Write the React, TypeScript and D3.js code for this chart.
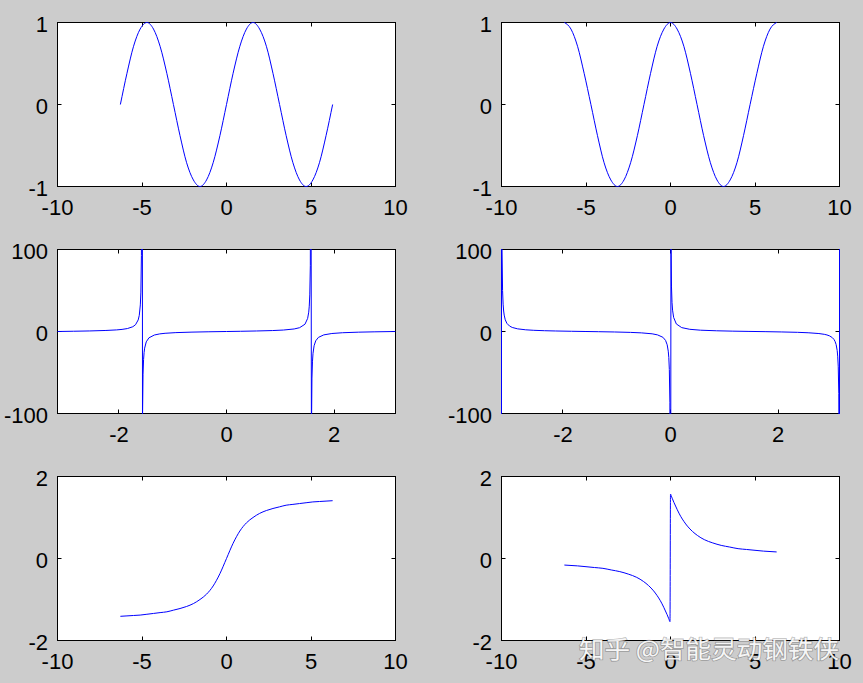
import React from "react";
import * as d3 from "d3";

// ---- data ----
const xWave = [-6.28, -5.89, -5.5, -5.11, -4.71, -4.32, -3.93, -3.53, -3.14, -2.75, -2.36, -1.96, -1.57, -1.18, -0.79, -0.39, 0, 0.39, 0.79, 1.18, 1.57, 1.96, 2.36, 2.75, 3.14, 3.53, 3.93, 4.32, 4.71, 5.11, 5.5, 5.89, 6.28];
const sinY = [0, 0.38, 0.71, 0.92, 1, 0.92, 0.71, 0.38, 0, -0.38, -0.71, -0.92, -1, -0.92, -0.71, -0.38, 0, 0.38, 0.71, 0.92, 1, 0.92, 0.71, 0.38, 0, -0.38, -0.71, -0.92, -1, -0.92, -0.71, -0.38, 0];
const cosY = [1, 0.92, 0.71, 0.38, 0, -0.38, -0.71, -0.92, -1, -0.92, -0.71, -0.38, 0, 0.38, 0.71, 0.92, 1, 0.92, 0.71, 0.38, 0, -0.38, -0.71, -0.92, -1, -0.92, -0.71, -0.38, 0, 0.38, 0.71, 0.92, 1];
const atanY = [-1.41, -1.40, -1.39, -1.38, -1.36, -1.34, -1.32, -1.30, -1.26, -1.22, -1.17, -1.10, -1.00, -0.87, -0.67, -0.37, 0, 0.37, 0.67, 0.87, 1.00, 1.10, 1.17, 1.22, 1.26, 1.30, 1.32, 1.34, 1.36, 1.38, 1.39, 1.40, 1.41];

const acotX = [-6.28, -5.5, -5, -4.5, -4, -3.5, -3, -2.5, -2, -1.6, -1.3, -1, -0.8, -0.6, -0.4, -0.3, -0.2, -0.1, -0.03, 0, 0.05, 0.1, 0.2, 0.3, 0.4, 0.6, 0.8, 1, 1.3, 1.6, 2, 2.5, 3, 3.5, 4, 4.5, 5, 5.5, 6.28];
const acotY = [-0.16, -0.18, -0.2, -0.22, -0.24, -0.28, -0.32, -0.38, -0.46, -0.56, -0.66, -0.79, -0.9, -1.03, -1.19, -1.28, -1.37, -1.47, -1.54, 1.57, 1.52, 1.47, 1.37, 1.28, 1.19, 1.03, 0.9, 0.79, 0.66, 0.56, 0.46, 0.38, 0.32, 0.28, 0.24, 0.22, 0.2, 0.18, 0.16];

const tanX = [-3.1416, -2.8416, -2.5416, -2.2416, -2.0416, -1.9416, -1.8416, -1.7416, -1.6916, -1.6416, -1.6216, -1.6016, -1.5916, -1.5816, -1.5716, -1.5616, -1.5516, -1.5416, -1.5316, -1.5216, -1.4916, -1.4416, -1.3416, -1.2416, -1.1416, -0.9416, -0.6416, -0.3416, -0.0016, 0.2584, 0.5584, 0.8584, 1.0584, 1.2584, 1.3584, 1.4584, 1.5084, 1.5284, 1.5384, 1.5484, 1.5584, 1.5684, 1.5784, 1.5884, 1.5984, 1.6084, 1.6284, 1.6584, 1.7084, 1.8084, 1.9584, 2.1584, 2.4584, 2.7584, 3.1384];
const tanY = [0, 0.31, 0.68, 1.26, 1.96, 2.57, 3.6, 5.8, 8.24, 14.1, 19.67, 32.46, 48.08, 92.62, 1255.8, -108.65, -52.07, -34.23, -25.49, -20.31, -12.6, -7.7, -4.29, -2.93, -2.19, -1.37, -0.75, -0.36, 0, 0.26, 0.63, 1.16, 1.78, 3.1, 4.64, 8.86, 16.0, 23.57, 30.85, 44.63, 80.64, 416.7, -131.6, -56.81, -36.22, -26.58, -17.34, -11.39, -7.22, -4.13, -2.45, -1.5, -0.81, -0.4, 0];

const cotX = [-3.1416, -3.1416, -3.1316, -3.1216, -3.1116, -3.1016, -3.0916, -3.0716, -3.0416, -2.9916, -2.9416, -2.8416, -2.6916, -2.5416, -2.3416, -2.1416, -1.8416, -1.5716, -1.3416, -1.0416, -0.7416, -0.5416, -0.3416, -0.2416, -0.1416, -0.0916, -0.0616, -0.0416, -0.0316, -0.0216, -0.0116, -0.0016, 0.0084, 0.0184, 0.0284, 0.0384, 0.0584, 0.1084, 0.2084, 0.3584, 0.5584, 0.8584, 1.1584, 1.4584, 1.7584, 2.0584, 2.3584, 2.5584, 2.7584, 2.8584, 2.9084, 2.9584, 3.0084, 3.0384, 3.0584, 3.0784, 3.0984, 3.1084, 3.1184, 3.1284, 3.1384, 3.1416, 3.1416];
const cotY = [-1000, 1000, 100.0, 50.0, 33.32, 24.99, 19.98, 14.26, 9.97, 6.62, 4.93, 3.23, 2.07, 1.46, 0.97, 0.64, 0.28, 0, -0.24, -0.58, -1.09, -1.66, -2.81, -4.12, -7.02, -10.88, -16.21, -24.02, -31.63, -46.29, -86.2, -625.0, 119.0, 54.34, 35.2, 26.03, 17.1, 9.19, 4.73, 2.67, 1.59, 0.87, 0.43, 0.11, -0.19, -0.54, -1.0, -1.53, -2.48, -3.44, -4.2, -5.4, -7.47, -9.66, -11.99, -15.8, -23.13, -30.11, -43.1, -75.75, -312.5, -1000, 1000];

const ticksWide = [-10, -5, 0, 5, 10];
const ticksPi = [-2, 0, 2];
const ticksUnit = [-1, 0, 1];
const ticksHundred = [-100, 0, 100];
const ticksTwo = [-2, 0, 2];
const watermark = "知乎 @智能灵动钢铁侠";

// ---- layout ----
const W = 863;
const H = 683;
const colX = [57.5, 501.5];
const rowY = [22.5, 249.5, 476.5];
const axW = 338;
const axH = 164;
const tickLen = 4;
const FONT = "'Liberation Sans', Arial, sans-serif";

type Panel = {
  id: string;
  col: number;
  row: number;
  xDomain: [number, number];
  yDomain: [number, number];
  xTicks: number[];
  yTicks: number[];
  xs: number[];
  ys: number[];
  smooth: boolean;
};

const panels: Panel[] = [
  { id: "sin", col: 0, row: 0, xDomain: [-10, 10], yDomain: [-1, 1], xTicks: ticksWide, yTicks: ticksUnit, xs: xWave, ys: sinY, smooth: true },
  { id: "cos", col: 1, row: 0, xDomain: [-10, 10], yDomain: [-1, 1], xTicks: ticksWide, yTicks: ticksUnit, xs: xWave, ys: cosY, smooth: true },
  { id: "tan", col: 0, row: 1, xDomain: [-Math.PI, Math.PI], yDomain: [-100, 100], xTicks: ticksPi, yTicks: ticksHundred, xs: tanX, ys: tanY, smooth: false },
  { id: "cot", col: 1, row: 1, xDomain: [-Math.PI, Math.PI], yDomain: [-100, 100], xTicks: ticksPi, yTicks: ticksHundred, xs: cotX, ys: cotY, smooth: false },
  { id: "atan", col: 0, row: 2, xDomain: [-10, 10], yDomain: [-2, 2], xTicks: ticksWide, yTicks: ticksTwo, xs: xWave, ys: atanY, smooth: true },
  { id: "acot", col: 1, row: 2, xDomain: [-10, 10], yDomain: [-2, 2], xTicks: ticksWide, yTicks: ticksTwo, xs: acotX, ys: acotY, smooth: true },
];

const snap = (v: number) => Math.round(v - 0.5) + 0.5;

function PanelView({ p }: { p: Panel }) {
  const x0 = colX[p.col];
  const y0 = rowY[p.row];
  const sx = d3.scaleLinear().domain(p.xDomain).range([x0, x0 + axW]);
  const sy = d3.scaleLinear().domain(p.yDomain).range([y0 + axH, y0]);
  const pts = p.xs.map((x, i) => [x, p.ys[i]] as [number, number]);
  const line = d3
    .line<[number, number]>()
    .x((d) => sx(d[0]))
    .y((d) => sy(Math.max(-5000, Math.min(5000, d[1]))))
    .curve(p.smooth ? d3.curveMonotoneX : d3.curveLinear);
  const clipId = `clip-${p.id}`;
  const bottom = y0 + axH;
  const right = x0 + axW;
  return (
    <g>
      <defs>
        <clipPath id={clipId}>
          <rect x={x0 - 0.5} y={y0 - 0.5} width={axW + 1} height={axH + 1} />
        </clipPath>
      </defs>
      <rect x={x0} y={y0} width={axW} height={axH} fill="#ffffff" />
      {p.xTicks.map((t) => {
        const x = snap(sx(t));
        return (
          <g key={`xt${t}`}>
            <line x1={x} x2={x} y1={bottom} y2={bottom - tickLen} stroke="#000" strokeWidth={1} />
            <line x1={x} x2={x} y1={y0} y2={y0 + tickLen} stroke="#000" strokeWidth={1} />
            <text x={sx(t)} y={bottom + 28.5} textAnchor="middle" fontFamily={FONT} fontSize={22} fill="#000">
              {String(t)}
            </text>
          </g>
        );
      })}
      {p.yTicks.map((t) => {
        const y = snap(sy(t));
        return (
          <g key={`yt${t}`}>
            <line x1={x0} x2={x0 + tickLen} y1={y} y2={y} stroke="#000" strokeWidth={1} />
            <line x1={right} x2={right - tickLen} y1={y} y2={y} stroke="#000" strokeWidth={1} />
            <text x={x0 - 9.5} y={sy(t) + 9} textAnchor="end" fontFamily={FONT} fontSize={22} fill="#000">
              {String(t)}
            </text>
          </g>
        );
      })}
      <rect x={x0} y={y0} width={axW} height={axH} fill="none" stroke="#000" strokeWidth={1} />
      <path d={line(pts) || ""} fill="none" stroke="#0000ff" strokeWidth={1} clipPath={`url(#${clipId})`} />
    </g>
  );
}

export default function App() {
  return (
    <svg
      width={W}
      height={H}
      viewBox={`0 0 ${W} ${H}`}
      style={{ position: "absolute", left: 0, top: 0, display: "block" }}
    >
      <rect x={0} y={0} width={W} height={H} fill="#cccccc" />
      {panels.map((p) => (
        <PanelView key={p.id} p={p} />
      ))}
      <text
        x={579}
        y={658}
        fontFamily="'Noto Sans CJK SC', sans-serif"
        fontSize={24}
        textLength={260}
        lengthAdjust="spacingAndGlyphs"
        fill="#ffffff"
        fillOpacity={0.92}
        stroke="rgba(60,60,60,0.35)"
        strokeWidth={1.6}
        paintOrder="stroke"
      >
        {watermark}
      </text>
    </svg>
  );
}
